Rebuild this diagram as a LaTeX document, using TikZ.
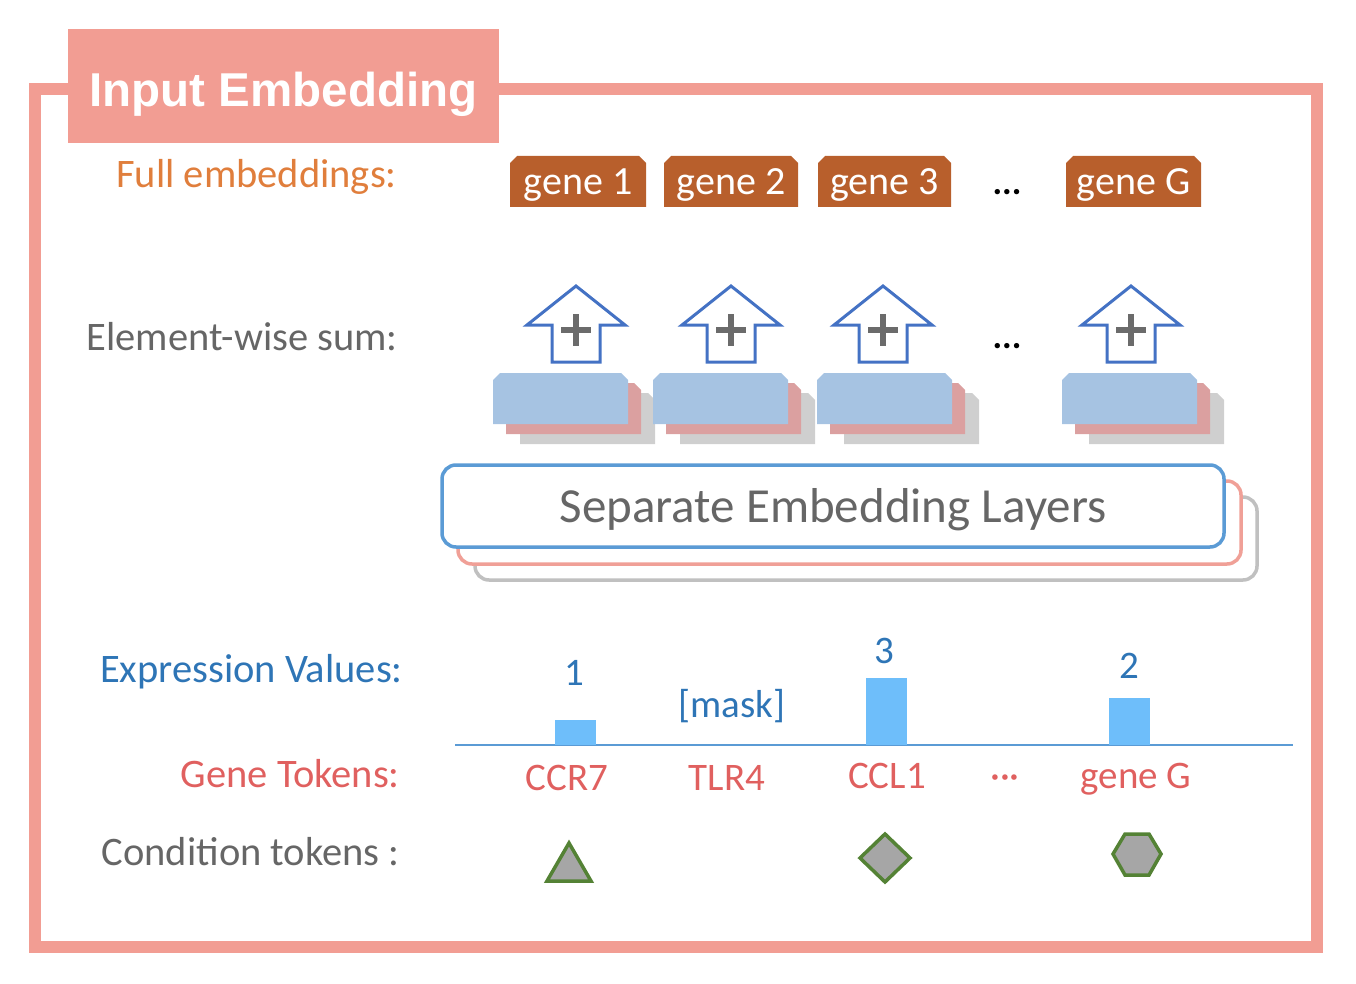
\documentclass[tikz,border=0pt]{standalone}
\usepackage{fontspec}
\setmainfont{Carlito}
\newfontfamily\titlefont{Liberation Sans}
\definecolor{framepink}{HTML}{F29D93}
\definecolor{genebrown}{HTML}{B85F2C}
\definecolor{lblorange}{HTML}{E07E3C}
\definecolor{lblgray}{HTML}{666666}
\definecolor{exprblue}{HTML}{2E75B6}
\definecolor{tokred}{HTML}{E0605F}
\definecolor{barblue}{HTML}{6EBEFA}
\definecolor{arrowblue}{HTML}{4472C4}
\definecolor{boxblue}{HTML}{A6C3E2}
\definecolor{boxpink}{HTML}{DBA0A0}
\definecolor{boxgray}{HTML}{CFCFCF}
\definecolor{layerblue}{HTML}{5B9BD5}
\definecolor{layerpink}{HTML}{F0A097}
\definecolor{layergray}{HTML}{C0C0C0}
\definecolor{condgreen}{HTML}{548235}
\definecolor{condfill}{HTML}{A6A6A6}
\definecolor{plusgray}{HTML}{6B6B6B}
\newcommand\snipfill[5]{\fill[#5] (#1,#4) -- (#1,#2+7) -- (#1+7,#2) -- (#3-7,#2) -- (#3,#2+7) -- (#3,#4) -- cycle;}
\newcommand\sumarrow[2]{%
  \draw[sumarr] (#2,286) -- (#2+49,325) -- (#2+24,325) -- (#2+24,362) -- (#2-24,362) -- (#2-24,325) -- (#2-49,325) -- cycle;
  \draw[plussign] (#2-15,330) -- (#2+15,330) (#2,314) -- (#2,346);
  \coordinate (#1) at (#2,324);}
\newcommand\embstack[2]{%
  \snipfill{#2+27}{393}{#2+162}{444}{boxgray}
  \snipfill{#2+13}{383}{#2+148}{434}{boxpink}
  \snipfill{#2}{373}{#2+135}{424}{boxblue}
  \coordinate (#1) at (#2+67,398);}
\begin{document}
\begin{tikzpicture}[x=1pt,y=-1pt,
  lbl/.style={font=\fontsize{39}{45}\selectfont, inner sep=0pt},
  leftlbl/.style={font=\fontsize{40.5}{46}\selectfont, inner sep=0pt, anchor=base east},
  genetxt/.style={font=\fontsize{40}{46}\selectfont, inner sep=0pt, text=white, text height=33pt, text depth=6pt},
  sumarr/.style={draw=arrowblue, line width=3pt, fill=white, line join=miter},
  plussign/.style={draw=plusgray, line width=6pt},
  layerbox/.style={line width=3.5pt, rounded corners=14pt, fill=white},
  bar/.style={fill=barblue},
  cond/.style={draw=condgreen, fill=condfill, line width=3.5pt, line join=miter}]
\useasboundingbox (0,0) rectangle (1356,984);
% frame
\draw[framepink, line width=12pt] (35,89) rectangle (1317,947);
\fill[framepink] (68,29) rectangle (499,143);
\node[text=white, font=\titlefont\bfseries\fontsize{47.5}{54}\selectfont, inner sep=0pt, anchor=base] (title) at (283.5,107) {Input Embedding};
% left labels
\node[leftlbl, text=lblorange] (lfull) at (397,188) {Full embeddings:};
\node[leftlbl, text=lblgray] (lsum) at (398,350) {Element-wise sum:};
\node[leftlbl, text=exprblue] (lexpr) at (403,682) {Expression Values:};
\node[leftlbl, text=tokred] (ltok) at (400,787) {Gene Tokens:};
\node[leftlbl, text=lblgray] (lcond) at (400,865) {Condition tokens :};
% gene boxes
\snipfill{510}{156}{646}{207}{genebrown}
\node[genetxt] (g1) at (578,181.5) {gene 1};
\snipfill{664}{156}{798}{207}{genebrown}
\node[genetxt] (g2) at (731,181.5) {gene 2};
\snipfill{818}{156}{951}{207}{genebrown}
\node[genetxt] (g3) at (884.5,181.5) {gene 3};
\node[lbl, font=\bfseries\fontsize{36}{40}\selectfont, anchor=base] (gdots) at (1007,195) {...};
\snipfill{1066}{156}{1201}{207}{genebrown}
\node[genetxt] (gG) at (1133.5,181.5) {gene G};
% sum arrows
\sumarrow{a1}{576}
\sumarrow{a2}{731}
\sumarrow{a3}{883}
\node[lbl, font=\bfseries\fontsize{36}{40}\selectfont, anchor=base] (adots) at (1007,348) {...};
\sumarrow{aG}{1131}
% embedding stacks
\embstack{e1}{493}
\embstack{e2}{653}
\embstack{e3}{817}
\embstack{eG}{1062}
% separate embedding layers
\draw[layerbox, draw=layergray] (475,497) rectangle (1257,580);
\draw[layerbox, draw=layerpink] (458,481) rectangle (1241,564);
\node[layerbox, draw=layerblue, minimum width=782pt, minimum height=82pt, inner sep=0pt,
  text=lblgray, font=\fontsize{49}{54}\selectfont, text height=42pt, text depth=10pt] (sel) at (833,506) {Separate Embedding Layers};
% expression values
\draw[layerblue, line width=2pt] (455,745) coordinate (axl) -- (1293,745) coordinate (axr);
\fill[bar] (555,720) rectangle (596,745);
\fill[bar] (866,678) rectangle (907,745);
\fill[bar] (1109,698) rectangle (1150,745);
\node[lbl, text=exprblue, anchor=base] (v1) at (574,685) {1};
\node[lbl, text=exprblue, anchor=base] (vmask) at (732,717) {[mask]};
\node[lbl, text=exprblue, anchor=base] (v3) at (884,663) {3};
\node[lbl, text=exprblue, anchor=base] (vG) at (1129,678) {2};
% gene tokens
\node[lbl, text=tokred, anchor=base] (t1) at (567,790) {CCR7};
\node[lbl, text=tokred, anchor=base] (t2) at (727,790) {TLR4};
\node[lbl, text=tokred, anchor=base] (t3) at (887,788) {CCL1};
\node[lbl, text=tokred, anchor=base] (tdots) at (1005,788) {···};
\node[lbl, text=tokred, anchor=base] (tG) at (1136,788) {gene G};
% condition tokens
\draw[cond] (547,881) -- (591,881) -- (569,843) -- cycle;
\coordinate (c1) at (569,866);
\draw[cond] (860,858) -- (885,834) -- (910,858) -- (885,882) -- cycle;
\coordinate (c3) at (885,858);
\draw[cond] (1113,854) -- (1125,834) -- (1149,834) -- (1161,854) -- (1149,875) -- (1125,875) -- cycle;
\coordinate (cG) at (1137,854);
\end{tikzpicture}
\end{document}
